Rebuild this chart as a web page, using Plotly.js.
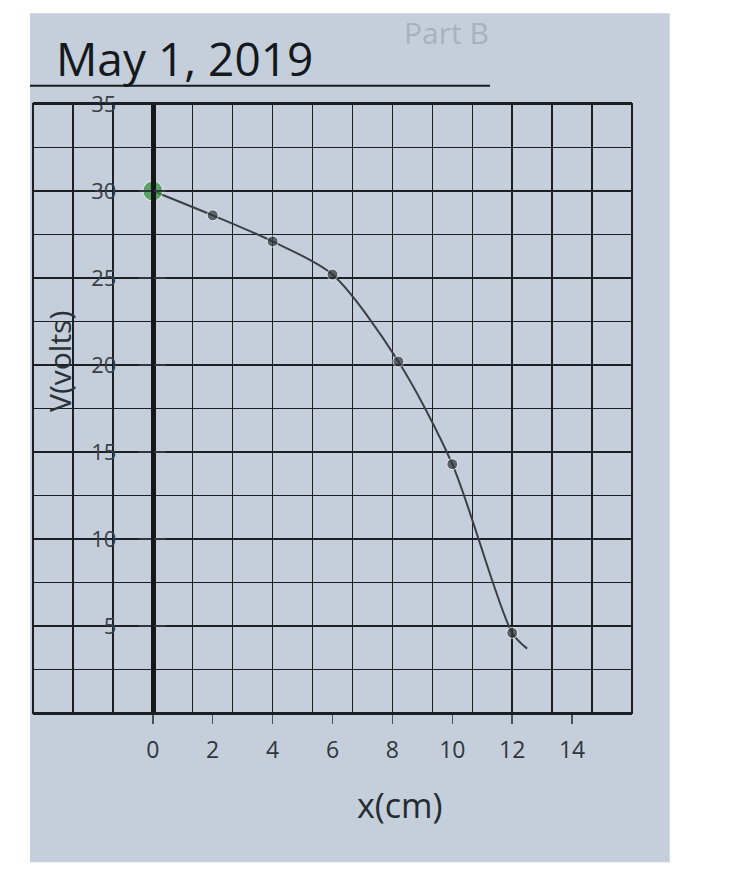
<!DOCTYPE html>
<html>
<head>
<meta charset="utf-8">
<script src="https://cdn.plot.ly/plotly-3.0.1.min.js"></script>
<style>html,body{margin:0;padding:0;background:#fff;}#chart{width:737px;height:890px;}</style>
</head>
<body>
<div id="chart"></div>
<script>
// Data
const xCm = [0, 2, 4, 6, 8.2, 10, 12];
const vVolts = [30, 28.6, 27.1, 25.2, 20.2, 14.3, 4.6];
// end of the hand-drawn curve past the last point
const tailX = [12.5];
const tailY = [3.7];
const xTickVals = [0, 2, 4, 6, 8, 10, 12, 14];
const yTickVals = [5, 10, 15, 20, 25, 30, 35];
const titleText = 'May 1, 2019';
const xLabel = 'x(cm)';
const yLabel = 'V(volts)';
const faintNote = 'Part B';

const pencil = '#2f3439';
const gridCol = '#1c2024';
const paperCol = '#c4cfdb';
const font = 'Open Sans, DejaVu Sans, sans-serif';

const curve = {
  x: xCm.concat(tailX), y: vVolts.concat(tailY),
  type: 'scatter', mode: 'lines',
  line: {color: '#3a4046', width: 2, shape: 'spline', smoothing: 0.8},
  hoverinfo: 'skip', showlegend: false
};
const points = {
  x: xCm, y: vVolts, type: 'scatter', mode: 'markers',
  marker: {
    color: xCm.map((v, i) => i === 0 ? '#2f8f35' : pencil),
    size: xCm.map((v, i) => i === 0 ? 20 : 11)
  },
  showlegend: false
};
// invisible trace carrying the second (inside-tick) y axis
const tickHelper = {
  x: [xCm[0]], y: [vVolts[0]], yaxis: 'y2', type: 'scatter', mode: 'markers',
  marker: {opacity: 0}, hoverinfo: 'skip', showlegend: false
};

const layout = {
  width: 737, height: 890,
  margin: {l: 33, r: 105, t: 104, b: 177},
  paper_bgcolor: '#ffffff',
  plot_bgcolor: 'rgba(0,0,0,0)',
  font: {family: font, color: '#333a40'},
  showlegend: false,
  xaxis: {
    range: [-4, 16], tickmode: 'array', tickvals: xTickVals,
    showgrid: false, gridcolor: gridCol, gridwidth: 1.5, zeroline: false,
    showline: true, mirror: true, linecolor: gridCol, linewidth: 2,
    ticks: 'outside', ticklen: 9, tickwidth: 1.5, tickcolor: '#4a5056',
    ticklabelstandoff: 6,
    tickfont: {family: font, size: 23, color: '#30363c'},
    minor: {tick0: -4, dtick: 4/3, showgrid: true, gridcolor: gridCol, gridwidth: 1.5, ticks: ''}
  },
  yaxis: {
    range: [0, 35], tickmode: 'array', tickvals: yTickVals,
    anchor: 'free', position: 0.2,
    showgrid: false, gridcolor: gridCol, gridwidth: 1.5, zeroline: false,
    showline: true, linecolor: '#15181b', linewidth: 5,
    ticks: 'outside', ticklen: 12, tickwidth: 2, tickcolor: '#30363c',
    ticklabelstandoff: 18,
    tickfont: {family: font, size: 22, color: '#3a4046'},
    minor: {tick0: 0, dtick: 2.5, showgrid: true, gridcolor: gridCol, gridwidth: 1.5, ticks: ''}
  },
  yaxis2: {
    range: [0, 35], tickmode: 'array', tickvals: yTickVals,
    overlaying: 'y', anchor: 'free', position: 0.2, side: 'left',
    showgrid: false, zeroline: false, showline: false, showticklabels: false,
    ticks: 'inside', ticklen: 12, tickwidth: 2, tickcolor: '#30363c'
  },
  shapes: [
    {type: 'rect', xref: 'paper', yref: 'paper', x0: -0.005, x1: 1.063, y0: -0.245, y1: 1.149,
     fillcolor: paperCol, line: {width: 0}, layer: 'below'},
    {type: 'rect', xref: 'paper', yref: 'paper', x0: 0, x1: 1, y0: 0, y1: 1,
     line: {color: gridCol, width: 2}, layer: 'above'},
    {type: 'line', xref: 'paper', yref: 'paper', x0: -0.005, x1: 0.763, y0: 1.03, y1: 1.03,
     line: {color: '#1a1d20', width: 2}}
  ],
  annotations: [
    {text: titleText, xref: 'paper', yref: 'paper', x: 0.035, y: 1.022, xanchor: 'left', yanchor: 'bottom',
     showarrow: false, font: {family: font, size: 46, color: '#16191c'}},
    {text: faintNote, xref: 'paper', yref: 'paper', x: 0.69, y: 1.117, xanchor: 'center', yanchor: 'middle',
     showarrow: false, font: {family: font, size: 30, color: '#a7b2be'}},
    {text: xLabel, xref: 'paper', yref: 'paper', x: 0.613, y: -0.151, xanchor: 'center', yanchor: 'middle',
     showarrow: false, font: {family: font, size: 34, color: '#262b30'}},
    {text: yLabel, xref: 'paper', yref: 'paper', x: 0.045, y: 0.578, xanchor: 'center', yanchor: 'middle',
     textangle: -90, showarrow: false, font: {family: font, size: 30, color: '#2c3136'}}
  ]
};

Plotly.newPlot('chart', [curve, points, tickHelper], layout, {displayModeBar: false, staticPlot: true});
</script>
</body>
</html>
